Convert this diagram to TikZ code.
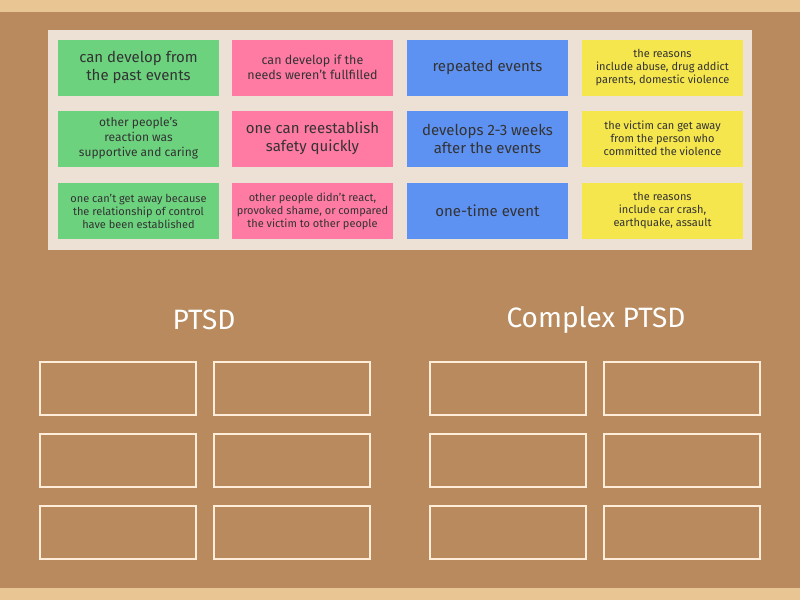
\documentclass[tikz,border=0pt]{standalone}
\usepackage{fontspec}
\setmainfont{Fira Sans}
\begin{document}
\begin{tikzpicture}[x=1pt,y=-1pt,
 card/.style={minimum width=161pt,minimum height=56pt,inner sep=2pt,align=center,text=black!80,font=\fontsize{15}{18}\selectfont},
 small/.style={font=\fontsize{11}{13}\selectfont},
 slot/.style={draw=white!85!orange,line width=1.3pt,minimum width=156pt,minimum height=53pt},
 head/.style={text=white,font=\fontsize{28}{32}\selectfont}]
\definecolor{cork}{HTML}{B88A5E}
\definecolor{wood}{HTML}{E8C593}
\definecolor{cg}{HTML}{6CD27E}
\definecolor{cp}{HTML}{FF7BA3}
\definecolor{cb}{HTML}{5E92F2}
\definecolor{cy}{HTML}{F5E64E}
\fill[cork] (0,0) rectangle (800,600);
\fill[wood] (0,0) rectangle (800,12);
\fill[wood] (0,588) rectangle (800,600);
\useasboundingbox (0,0) rectangle (800,600);
\fill[white,opacity=0.75] (48,30) rectangle (752,250);
\node[card,fill=cg] (a1) at (138.5,67.5) {can develop from\\the past events};
\node[card,fill=cp,small,font=\fontsize{12.5}{15}\selectfont] (a2) at (312.5,67.5) {can develop if the\\needs weren't fullfilled};
\node[card,fill=cb] (a3) at (487.5,67.5) {repeated events};
\node[card,fill=cy,small] (a4) at (662.5,67.5) {the reasons\\include abuse, drug addict\\parents, domestic violence};
\node[card,fill=cg,small,font=\fontsize{12}{15}\selectfont] (b1) at (138.5,138.5) {other people's\\reaction was\\supportive and caring};
\node[card,fill=cp] (b2) at (312.5,138.5) {one can reestablish\\safety quickly};
\node[card,fill=cb] (b3) at (487.5,138.5) {develops 2-3 weeks\\after the events};
\node[card,fill=cy,small] (b4) at (662.5,138.5) {the victim can get away\\from the person who\\committed the violence};
\node[card,fill=cg,small] (c1) at (138.5,211) {one can't get away because\\the relationship of control\\have been established};
\node[card,fill=cp,small] (c2) at (312.5,211) {other people didn't react,\\provoked shame, or compared\\the victim to other people};
\node[card,fill=cb] (c3) at (487.5,211) {one-time event};
\node[card,fill=cy,small] (c4) at (662.5,211) {the reasons\\include car crash,\\earthquake, assault};
\node[head] (h1) at (204,320) {PTSD};
\node[head] (h2) at (596,320) {Complex PTSD};
\foreach \x/\n in {118/p1,292/p2,508/q1,682/q2}{
 \foreach \y/\m in {388.5/r1,460.5/r2,532.5/r3}{
  \node[slot] (\n\m) at (\x,\y) {};
 }}
\end{tikzpicture}
\end{document}
